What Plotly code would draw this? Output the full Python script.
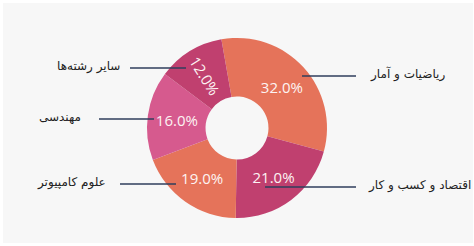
import plotly.graph_objects as go

# Data
categories = ["ریاضیات و آمار", "اقتصاد و کسب و کار", "علوم کامپیوتر", "مهندسی", "سایر رشته‌ها"]
shares = [32.0, 21.0, 19.0, 16.0, 12.0]

# Styles
slice_colors = ["#e5735a", "#c0406f", "#e5735a", "#d65a8e", "#c0406f"]
radial_label = [False, False, False, False, True]   # which slice label is drawn along the radius
W, H = 474, 246
cx, cy, R = 237, 128, 90   # pie centre / radius in px (from top-left)
dom = dict(x=[(cx - R) / W, (cx + R) / W], y=[(H - cy - R) / H, (H - cy + R) / H])
txt_font = dict(family="Open Sans", size=15, color="#fdf3f3")

fig = go.Figure()
common = dict(labels=categories, values=shares, sort=False, direction="clockwise",
              rotation=-10, hole=0.35, textposition="inside", showlegend=False,
              domain=dom, insidetextfont=txt_font)
fig.add_trace(go.Pie(
    marker=dict(colors=slice_colors, line=dict(width=0)),
    texttemplate=["" if r else "%{value:.1f}%" for r in radial_label],
    insidetextorientation="horizontal",
    hoverinfo="label+value",
    **common,
))
fig.add_trace(go.Pie(
    marker=dict(colors=["rgba(0,0,0,0)"] * len(shares), line=dict(width=0)),
    texttemplate=["%{value:.1f}%" if r else "" for r in radial_label],
    insidetextorientation="radial",
    hoverinfo="skip",
    **common,
))

# Callout layout (leader line and label text position, px from top-left)
callouts = [
    # (category index, line x0, line x1, y, text x, anchor)
    (0, 302, 356, 76, 368, "left"),
    (1, 265, 356, 187, 366, "left"),
    (2, 176, 120, 184, 108, "right"),
    (3, 154, 99, 119, 83, "right"),
    (4, 186, 130, 68, 122, "right"),
]

shapes = [dict(type="rect", xref="paper", yref="paper",
               x0=3 / W, x1=1 - 1 / W, y0=3 / H, y1=1 - 3 / H,
               fillcolor="#f7f7f7", line=dict(width=0), layer="below")]
annotations = []
for idx, x0, x1, y, tx, anc in callouts:
    shapes.append(dict(type="line", xref="paper", yref="paper",
                       x0=x0 / W, x1=x1 / W, y0=1 - y / H, y1=1 - y / H,
                       line=dict(color="#2f3e5c", width=1.5), layer="above"))
    annotations.append(dict(text=categories[idx], xref="paper", yref="paper",
                            x=tx / W, y=1 - (y - 2) / H, xanchor=anc, yanchor="middle",
                            showarrow=False,
                            font=dict(family="DejaVu Sans", size=12, color="#222222")))

fig.update_layout(
    width=W, height=H, autosize=False,
    margin=dict(l=0, r=0, t=0, b=0),
    paper_bgcolor="#ffffff",
    plot_bgcolor="#f7f7f7",
    shapes=shapes,
    annotations=annotations,
)

fig.write_html("out.html")
